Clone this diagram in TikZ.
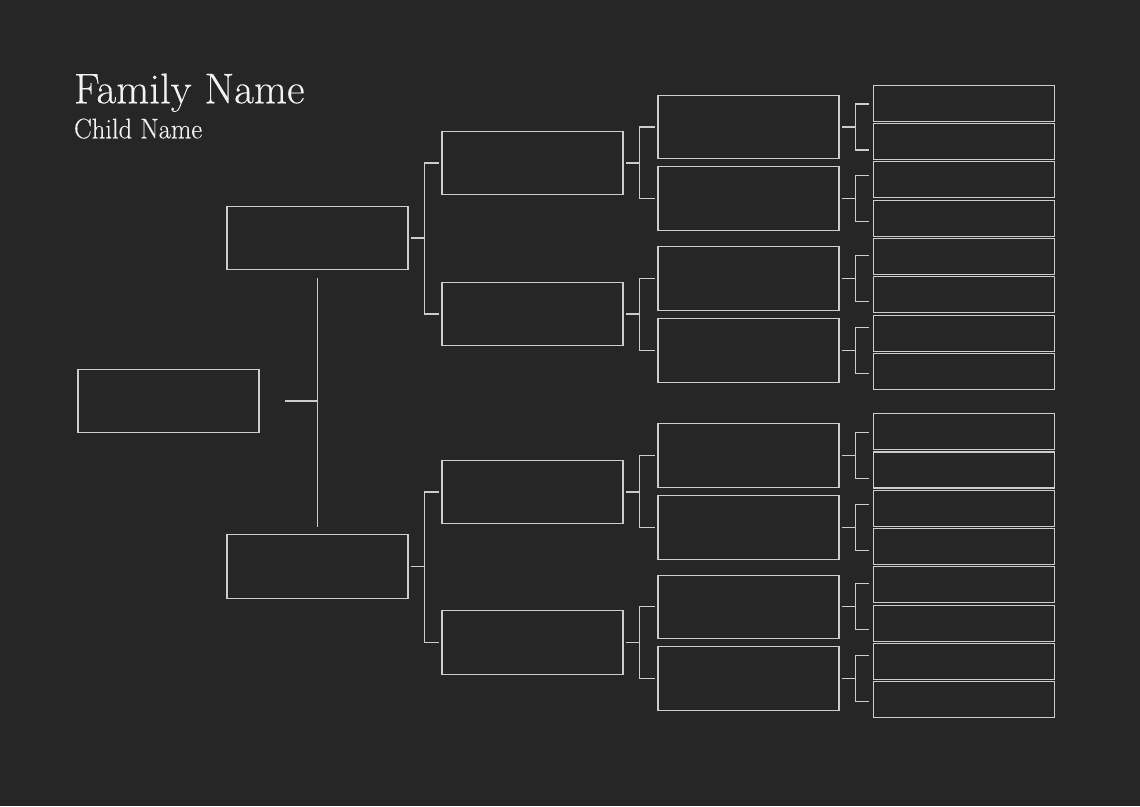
\documentclass[tikz,border=0pt]{standalone}
\usepackage{fontspec}
\usetikzlibrary{calc}
\newfontfamily\famtitlefont[FakeBold=0.3]{Latin Modern Roman}
\newfontfamily\famsubfont[FakeStretch=0.94,FakeBold=0.25]{Latin Modern Roman}
\definecolor{bg}{HTML}{262626}
\definecolor{ln}{HTML}{CCCCCC}
\definecolor{tx}{HTML}{F2F2F2}
\begin{document}
\begin{tikzpicture}[x=1pt,y=-1pt,
  person/.style={draw=ln, line width=1.1pt, minimum width=181pt, minimum height=63.7pt, inner sep=0pt, outer sep=0pt},
  leaf/.style={draw=ln, line width=1.1pt, minimum width=181.4pt, minimum height=36pt, inner sep=0pt, outer sep=0pt},
  conn/.style={draw=ln, line width=1.1pt},
  titletext/.style={anchor=base west, text=tx, inner sep=0pt, outer sep=0pt}]
\fill[bg] (0,0) rectangle (1140,806);
\useasboundingbox (0,0) rectangle (1140,806);

% titles
\node[titletext] (title) at (74,103.3) {\famtitlefont\fontsize{42.9}{50}\selectfont Family Name};
\node[titletext] (sub) at (74,138.3) {\famsubfont\fontsize{28.3}{34}\selectfont Child Name};

% generation 0
\node[person] (g0) at (168.5,401) {};
% generation 1
\node[person] (g1a) at (317.5,238) {};
\node[person] (g1b) at (317.5,566.5) {};
% generation 2
\node[person] (g2a) at (532.5,163) {};
\node[person] (g2b) at (532.5,314) {};
\node[person] (g2c) at (532.5,492) {};
\node[person] (g2d) at (532.5,642.5) {};
% generation 3
\node[person] (g3a) at (748.5,127) {};
\node[person] (g3b) at (748.5,198.5) {};
\node[person] (g3c) at (748.5,278.2) {};
\node[person] (g3d) at (748.5,350.2) {};
\node[person] (g3e) at (748.5,455.3) {};
\node[person] (g3f) at (748.5,527.2) {};
\node[person] (g3g) at (748.5,606.9) {};
\node[person] (g3h) at (748.5,678.7) {};
% generation 4
\foreach \i in {0,...,7} {
  \node[leaf] (la\i) at (964,{103.3+38.3*\i}) {};
  \node[leaf] (lb\i) at (964,{431.7+38.3*\i}) {};
}

% generation 0 connector
\draw[conn] ($(g1a.south)+(0,8)$) -- ($(g1b.north)+(0,-8)$);
\draw[conn] ($(g0.east)+(26,0)$) -- (g0.east -| g1a.south);

% brackets to child centres
\foreach \p/\a/\b in {g1a/g2a/g2b, g1b/g2c/g2d, g2a/g3a/g3b, g2b/g3c/g3d, g2c/g3e/g3f, g2d/g3g/g3h} {
  \coordinate (j\p) at ($(\p.east)+(16.5,0)$);
  \draw[conn] ($(\p.east)+(2.5,0)$) -- (j\p);
  \draw[conn] ($(\a.west)+(-3.5,0)$) -| (j\p) |- ($(\b.west)+(-3.5,0)$);
}

% brackets to leaf pairs
\foreach \p/\a in {g3a/la0, g3b/la2, g3c/la4, g3d/la6, g3e/lb0, g3f/lb2, g3g/lb4, g3h/lb6} {
  \coordinate (k\p) at ($(\p.east)+(16.5,0)$);
  \draw[conn] ($(\p.east)+(2.5,0)$) -- (k\p);
  \draw[conn] ($(k\p)+(13.8,-23)$) -- ($(k\p)+(0,-23)$) -- ($(k\p)+(0,23)$) -- ($(k\p)+(13.8,23)$);
}
\end{tikzpicture}
\end{document}
